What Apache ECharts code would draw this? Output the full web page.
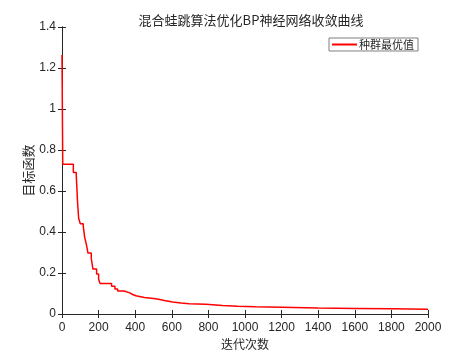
<!DOCTYPE html>
<html><head><meta charset="utf-8">
<script src="https://cdn.jsdelivr.net/npm/echarts@6/dist/echarts.min.js"></script>
<style>html,body{margin:0;padding:0;background:#fff}#c{width:474px;height:355px}</style>
</head><body><div id="c"></div>
<script>
const titleText = '混合蛙跳算法优化BP神经网络收敛曲线';
const seriesName = '种群最优值';
const xLabel = '迭代次数';
const yLabel = '目标函数';
const iterations = [0,4,62,78,85,91,100,116,124,133,142,160,169,189,200,208,271,289,304,340,370,386,404,450,513,560,604,650,695,786,877,960,1058,1200,1400,1600,1800,2000];
const bestValues = [1.264,0.73,0.69,0.675,0.545,0.467,0.44,0.43,0.374,0.34,0.297,0.272,0.219,0.195,0.17,0.149,0.135,0.122,0.112,0.103,0.095,0.089,0.08,0.074,0.066,0.059,0.054,0.05,0.047,0.042,0.038,0.035,0.033,0.029,0.027,0.025,0.023,0.022];

const chart = echarts.init(document.getElementById('c'), null, {renderer:'canvas'});
const axisColor = '#262626';
const tickFont = {fontFamily:'Liberation Sans, Arial, sans-serif', fontSize:12, color:'#262626'};
const cjk = 'Noto Sans CJK SC, sans-serif';
chart.setOption({
  animation:false,
  title:{text:titleText, left:246, top:9, textAlign:'center',
    textStyle:{fontFamily:cjk, fontSize:13, fontWeight:'normal', color:'#262626'}},
  legend:{data:[seriesName], right:56, top:38, orient:'vertical',
    backgroundColor:'#fff', borderColor:'#7f7f7f', borderWidth:1, borderRadius:0,
    padding:[1,4,1,3], itemWidth:25, itemHeight:2, itemGap:0,
    icon:'rect',
    textStyle:{fontFamily:cjk, fontSize:11, color:'#262626', padding:[0,0,0,-3]}},
  grid:{left:62, right:46, top:27, bottom:40, containLabel:false},
  xAxis:[{type:'value', min:0, max:2000, interval:200, position:'bottom',
    name:xLabel, nameLocation:'middle', nameGap:24, nameMoveOverlap:false,
    nameTextStyle:{fontFamily:cjk, fontSize:12, color:'#262626'},
    axisLine:{show:true, lineStyle:{color:axisColor, width:1}},
    axisTick:{show:true, inside:true, length:4, lineStyle:{color:axisColor}},
    axisLabel:Object.assign({margin:8, formatter:v=>String(v)}, tickFont), splitLine:{show:false}},
   {type:'value', min:0, max:2000, interval:200, position:'top',
    axisLine:{show:true, lineStyle:{color:axisColor, width:1}},
    axisTick:{show:true, inside:true, length:4, lineStyle:{color:axisColor}},
    axisLabel:{show:false}, splitLine:{show:false}}],
  yAxis:[{type:'value', min:0, max:1.4, interval:0.2, position:'left',
    name:yLabel, nameLocation:'middle', nameGap:27, nameRotate:90, nameMoveOverlap:false,
    nameTextStyle:{fontFamily:cjk, fontSize:13, color:'#262626'},
    axisLine:{show:true, lineStyle:{color:axisColor, width:1}},
    axisTick:{show:true, inside:true, length:4, lineStyle:{color:axisColor}},
    axisLabel:Object.assign({margin:6, formatter:v=>String(+v.toFixed(1))}, tickFont), splitLine:{show:false}},
   {type:'value', min:0, max:1.4, interval:0.2, position:'right',
    axisLine:{show:true, lineStyle:{color:axisColor, width:1}},
    axisTick:{show:true, inside:true, length:4, lineStyle:{color:axisColor}},
    axisLabel:{show:false}, splitLine:{show:false}}],
  series:[{name:seriesName, type:'line', step:'end', showSymbol:false, symbol:'none',
    xAxisIndex:0, yAxisIndex:0,
    lineStyle:{color:'#ff0000', width:1.5}, itemStyle:{color:'#ff0000'},
    data:iterations.map((x,i)=>[x,bestValues[i]])}]
});
</script></body></html>
